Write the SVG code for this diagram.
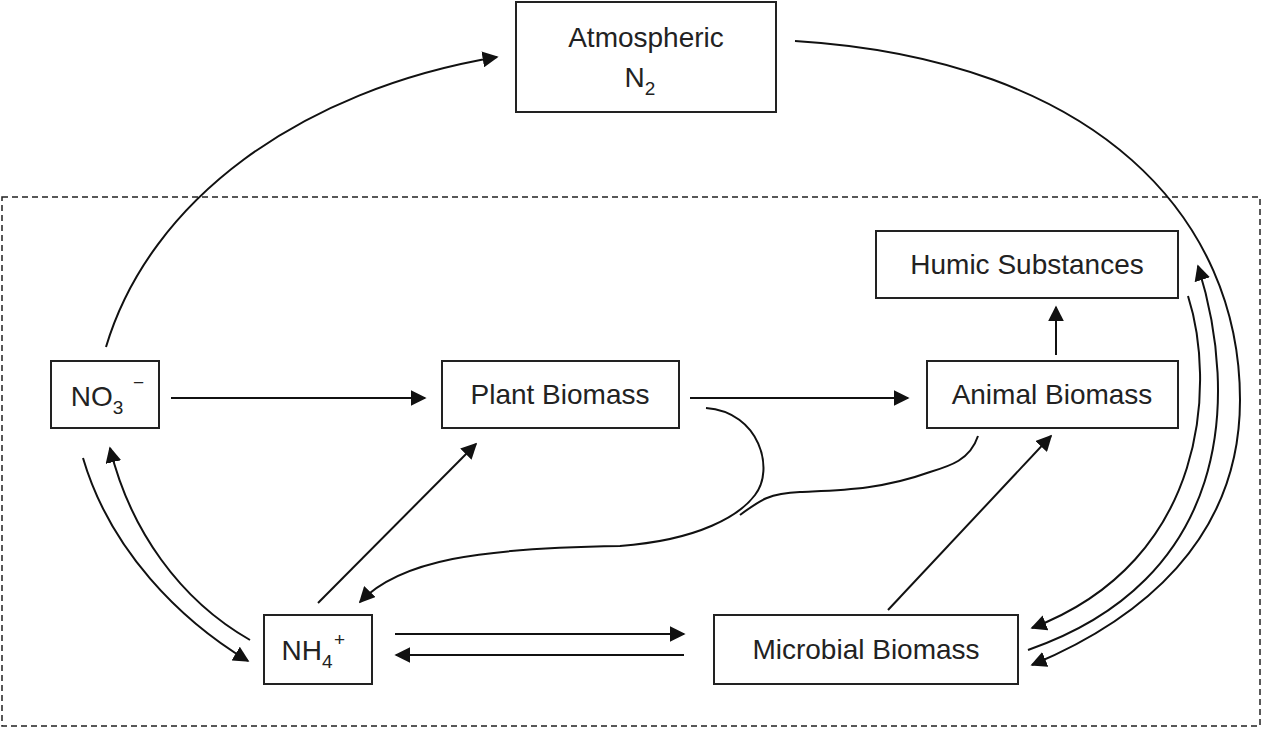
<svg xmlns="http://www.w3.org/2000/svg" width="1263" height="729" viewBox="0 0 1263 729">
<style>
.box{fill:#fff;stroke:#222;stroke-width:2}
.t{font-family:"Liberation Sans",Arial,sans-serif;font-size:28px;fill:#222;text-anchor:middle}
.c{fill:none;stroke:#111;stroke-width:2}
</style>
<defs><marker id="a" viewBox="0 0 10 10" refX="9" refY="5" markerWidth="9" markerHeight="9" markerUnits="userSpaceOnUse" orient="auto"><path d="M0,0L10,5L0,10z" fill="#111"/></marker>
<marker id="b" viewBox="0 0 10 10" refX="9" refY="5" markerWidth="16" markerHeight="16" markerUnits="userSpaceOnUse" orient="auto"><path d="M0,0L10,5L0,10z" fill="#111"/></marker></defs>
<rect x="2" y="197" width="1258" height="529" fill="none" stroke="#222" stroke-width="1.5" stroke-dasharray="6,4"/>
<g id="atm"><rect class="box" x="516" y="2" width="260" height="110"/><text class="t" x="646" y="47">Atmospheric</text><text class="t" x="640" y="87">N<tspan font-size="19" dy="8">2</tspan></text></g>
<g id="humic"><rect class="box" x="876" y="231" width="302" height="67"/><text class="t" x="1027" y="274">Humic Substances</text></g>
<g id="no3"><rect class="box" x="51" y="361" width="108" height="67"/><text class="t" x="97" y="406">NO<tspan font-size="19" dy="8">3</tspan></text><text x="133" y="389" font-family="Liberation Sans,sans-serif" font-size="19" fill="#222">−</text></g>
<g id="plant"><rect class="box" x="442" y="361" width="237" height="67"/><text class="t" x="560" y="404">Plant Biomass</text></g>
<g id="animal"><rect class="box" x="927" y="361" width="251" height="67"/><text class="t" x="1052" y="404">Animal Biomass</text></g>
<g id="nh4"><rect class="box" x="264" y="615" width="108" height="69"/><text class="t" x="307" y="660">NH<tspan font-size="19" dy="8">4</tspan></text><text x="334" y="646" font-family="Liberation Sans,sans-serif" font-size="19" fill="#222">+</text></g>
<g id="microbial"><rect class="box" x="714" y="615" width="304" height="69"/><text class="t" x="866" y="659">Microbial Biomass</text></g>
<g id="connectors" class="c">
<path class="c" d="M106,347 C150,200 300,90 497,57" marker-end="url(#b)"/>
<path class="c" d="M795,41 C1100,60 1240,220 1240,400 C1240,540 1140,620 1032,665" marker-end="url(#b)"/>
<path class="c" d="M1188,296 C1215,380 1210,560 1032,628" marker-end="url(#b)"/>
<path class="c" d="M1028,650 C1230,580 1240,400 1198,266" marker-end="url(#b)"/>
<path class="c" d="M171,398 H425" marker-end="url(#b)"/>
<path class="c" d="M690,398 H908" marker-end="url(#b)"/>
<path class="c" d="M1056,355 V307" marker-end="url(#b)"/>
<path class="c" d="M83,458 C110,550 180,620 248,661" marker-end="url(#b)"/>
<path class="c" d="M250,640 C180,600 130,530 110,448" marker-end="url(#b)"/>
<path class="c" d="M318,603 L476,444" marker-end="url(#b)"/>
<path class="c" d="M888,610 L1051,436" marker-end="url(#b)"/>
<path class="c" d="M395,634 H684" marker-end="url(#b)"/>
<path class="c" d="M684,655 H396" marker-end="url(#b)"/>
<path class="c" d="M706,408 C760,412 775,470 755,495 C740,515 700,540 620,546 C480,548 400,560 360,602" marker-end="url(#b)"/>
<path class="c" d="M978,436 C970,460 950,466 930,472 C880,490 840,490 800,492 C770,493 760,500 740,515"/>
</g>
</svg>
